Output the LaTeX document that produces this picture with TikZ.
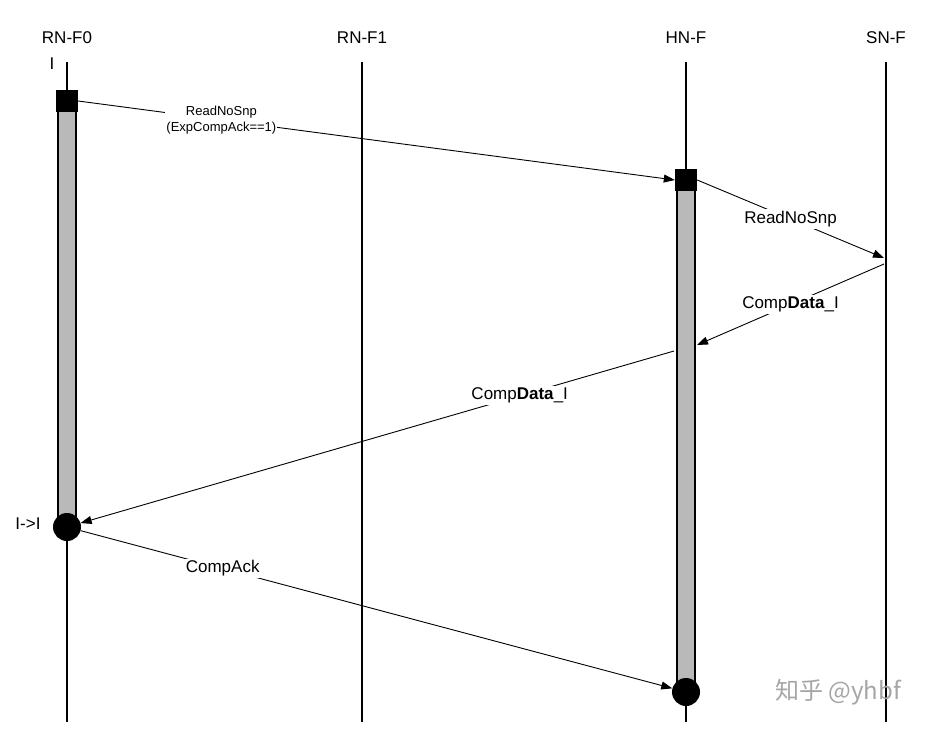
\documentclass[tikz,border=0pt]{standalone}
\usepackage{fontspec}
\setmainfont{Liberation Sans}
\newfontfamily\cjk{Noto Sans CJK SC}
\usetikzlibrary{arrows.meta}
\begin{document}
\begin{tikzpicture}[x=1pt,y=-1pt,
  life/.style={line width=2.2pt},
  hdr/.style={font=\fontsize{17}{20}\selectfont},
  msg/.style={-{Triangle[length=11pt,width=8pt]},line width=0.9pt},
  lbl/.style={fill=white,inner sep=2pt,font=\fontsize{17}{20}\selectfont},
  slbl/.style={fill=white,inner sep=1pt,align=center,font=\fontsize{13}{16}\selectfont},
  bar/.style={draw=black,fill=gray!55,line width=1.2pt},
  sq/.style={fill=black,minimum size=22pt,inner sep=0pt},
  dot/.style={circle,fill=black,minimum size=28pt,inner sep=0pt}]
\useasboundingbox (0,0) rectangle (937,739);
\foreach \n/\x/\t in {a/67/RN-F0,b/362/RN-F1,c/686/HN-F,d/886/SN-F}{
  \node[hdr] (h\n) at (\x,38) {\t};
  \draw[life] (\x,62) -- (\x,722);
}
\node[hdr] (st) at (52,64) {I};
\draw[bar] (58,101) rectangle (76,527);
\draw[bar] (677,180) rectangle (695,692);
\node[sq] (s1) at (67,101) {};
\node[sq] (s2) at (686,180) {};
\node[dot] (c1) at (67,527) {};
\node[dot] (c2) at (686,692) {};
\coordinate (sn1) at (884,258);
\coordinate (sn2) at (884,264);
\coordinate (hn3) at (674,351);
\node[hdr] (tr) at (28,524) {I->I};
\draw[msg] (s1.east) -- (s2.west) node[pos=0.24,slbl] (l1) {ReadNoSnp\\(ExpCompAck==1)};
\draw[msg] (s2.east) -- (sn1) node[pos=0.5,lbl] (l2) {ReadNoSnp};
\draw[msg] (sn2) -- (697,345) node[pos=0.5,lbl] (l3) {Comp\textbf{Data}\_I};
\draw[msg] (hn3) -- (c1) node[pos=0.26,lbl] (l4) {Comp\textbf{Data}\_I};
\draw[msg] (c1) -- (c2) node[pos=0.24,lbl] (l5) {CompAck};
\node[text=gray!70,font=\cjk\fontsize{24}{28}\selectfont] (wm) at (838,692) {知乎 @yhbf};
\end{tikzpicture}
\end{document}
